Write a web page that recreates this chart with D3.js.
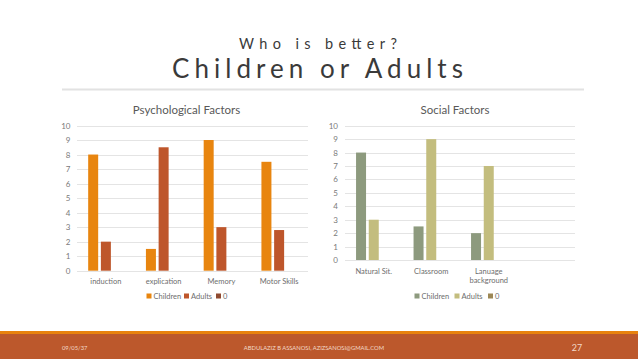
<!DOCTYPE html>
<html>
<head>
<meta charset="utf-8">
<script src="https://cdn.jsdelivr.net/npm/d3@7"></script>
<style>
  html, body { margin: 0; padding: 0; background: #ffffff; }
  svg { display: block; font-family: Lato, "Open Sans", sans-serif; }
</style>
</head>
<body>
<svg id="chart" width="638" height="359"></svg>
<script>
// ---- data ----
const seriesNames = ["Children", "Adults", "0"];
const yTicks = [0, 1, 2, 3, 4, 5, 6, 7, 8, 9, 10];

const psychCategories = ["induction", "explication", "Memory", "Motor Skills"];
const psychChildren = [8, 1.5, 9, 7.5];
const psychAdults = [2, 8.5, 3, 2.8];
const psychZero = [0, 0, 0, 0];
const psychColors = ["#E8850F", "#BE562B", "#8E4A31"];

const socialCategories = ["Natural Sit.", "Classroom", "Lanuage background"];
const socialChildren = [8, 2.5, 2];
const socialAdults = [3, 9, 7];
const socialZero = [0, 0, 0];
const socialColors = ["#8D9A7E", "#C3BD7E", "#9C8755"];

const svg = d3.select("#chart");

// ---- slide header ----
svg.append("text").attr("x", 318).attr("y", 48.5)
  .attr("text-anchor", "middle").attr("font-size", 14.5).attr("fill", "#3a3a3a")
  .attr("textLength", 158).attr("lengthAdjust", "spacing")
  .text("Who is better?");
svg.append("text").attr("x", 317.5).attr("y", 78)
  .attr("text-anchor", "middle").attr("font-size", 26).attr("fill", "#3a3a3a")
  .attr("textLength", 291).attr("lengthAdjust", "spacing")
  .text("Children or Adults");
svg.append("rect").attr("x", 62).attr("y", 88.5).attr("width", 522).attr("height", 2)
  .attr("fill", "#e2e2e2");

// ---- chart builder ----
function drawChart(opts) {
  const g = svg.append("g");
  const y = d3.scaleLinear().domain([0, 10]).range([opts.y0, opts.y10]);
  const x0 = d3.scaleBand().domain(opts.domain).range([opts.xl, opts.xr]).padding(0);
  const bw = x0.bandwidth();
  const inner = 35.4;
  const x1 = d3.scaleBand().domain(seriesNames)
    .range([(bw - inner) / 2, (bw + inner) / 2]).paddingInner(0.213);

  // gridlines
  g.append("g").selectAll("line").data(yTicks).join("line")
    .attr("x1", opts.xl).attr("x2", opts.xr)
    .attr("y1", d => Math.round(y(d)) + 0.5).attr("y2", d => Math.round(y(d)) + 0.5)
    .attr("stroke", "#e4e4e4").attr("stroke-width", 1);

  // y axis labels
  const yAxis = d3.axisLeft(y).tickValues(yTicks).tickSize(0).tickPadding(0);
  const ya = g.append("g").attr("transform", `translate(${opts.labelX},0)`).call(yAxis);
  ya.select(".domain").remove();
  ya.selectAll("text").attr("font-size", 8).attr("fill", "#7a7a7a")
    .attr("font-family", "Lato, sans-serif");

  // bars
  const rows = opts.categories.map((c, i) => ({
    cat: c, vals: opts.values.map(v => v[i])
  }));
  const grp = g.append("g").selectAll("g").data(rows).join("g")
    .attr("transform", d => `translate(${x0(d.cat)},0)`);
  grp.selectAll("rect").data(d => seriesNames.map((s, k) => ({ s, k, v: d.vals[k] })))
    .join("rect")
    .attr("x", d => x1(d.s))
    .attr("width", x1.bandwidth())
    .attr("y", d => y(d.v))
    .attr("height", d => y(0) - y(d.v))
    .attr("fill", d => opts.colors[d.k]);

  // category labels
  opts.categories.forEach(c => {
    const words = opts.wrap[c] || [c];
    const t = g.append("text").attr("text-anchor", "middle")
      .attr("font-size", 7.5).attr("fill", "#6e6e6e");
    words.forEach((w, i) => {
      t.append("tspan").attr("x", x0(c) + bw / 2)
        .attr("y", opts.catY + i * 9.5).text(w);
    });
  });

  // title
  g.append("text").attr("x", opts.titleX).attr("y", 114)
    .attr("text-anchor", "middle").attr("font-size", 11.5).attr("fill", "#595959")
    .text(opts.title);

  // legend
  seriesNames.forEach((s, k) => {
    g.append("rect").attr("x", opts.legX[k]).attr("y", 293.5)
      .attr("width", 5).attr("height", 5).attr("fill", opts.colors[k]);
    g.append("text").attr("x", opts.legX[k] + 7).attr("y", 298.8)
      .attr("font-size", 7.5).attr("fill", "#6e6e6e").text(s);
  });
}

drawChart({
  title: "Psychological Factors", titleX: 186.5,
  categories: psychCategories, domain: psychCategories,
  values: [psychChildren, psychAdults, psychZero], colors: psychColors,
  xl: 77, xr: 308, y0: 270.7, y10: 125.5, labelX: 70.5,
  catY: 283.5, wrap: {},
  legX: [146.5, 184, 216]
});

drawChart({
  title: "Social Factors", titleX: 455,
  categories: socialCategories, domain: socialCategories.concat([" "]),
  values: [socialChildren, socialAdults, socialZero], colors: socialColors,
  xl: 345, xr: 575, y0: 260, y10: 125.7, labelX: 338,
  catY: 273.5, wrap: { "Lanuage background": ["Lanuage", "background"] },
  legX: [414.5, 454.5, 488]
});

// ---- footer ----
svg.append("rect").attr("x", 0).attr("y", 331).attr("width", 638).attr("height", 3)
  .attr("fill", "#E8820E");
svg.append("rect").attr("x", 0).attr("y", 334).attr("width", 638).attr("height", 25)
  .attr("fill", "#BC582C");
svg.append("text").attr("x", 62).attr("y", 349.5).attr("font-size", 5.8)
  .attr("fill", "#f3d8c8").text("09/05/37");
svg.append("text").attr("x", 314).attr("y", 349.5).attr("text-anchor", "middle")
  .attr("font-size", 5.8).attr("fill", "#f3d8c8")
  .text("ABDULAZIZ B ASSANOSI, AZIZSANOSI@GMAIL.COM");
svg.append("text").attr("x", 577).attr("y", 350.5).attr("text-anchor", "middle")
  .attr("font-size", 9).attr("fill", "#f3d8c8").text("27");
</script>
</body>
</html>
